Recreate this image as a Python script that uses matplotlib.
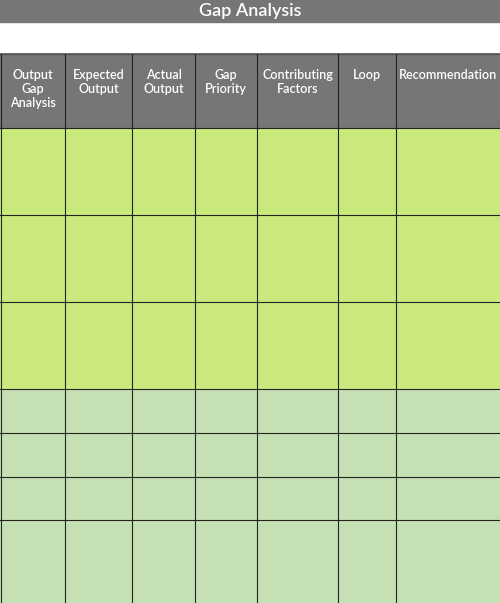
import matplotlib
matplotlib.use("Agg")
import matplotlib.pyplot as plt
from matplotlib.patches import Rectangle

title = "Gap Analysis"
headers = ["Output\nGap\nAnalysis", "Expected\nOutput", "Actual\nOutput", "Gap\nPriority",
           "Contributing\nFactors", "Loop", "Recommendation"]
col_edges = [0, 65, 132, 195, 257, 338, 396, 500]
row_edges = [128, 215, 302, 389, 433, 477, 520, 603]
row_colors = ["#c9e97c"] * 3 + ["#c5e0b4"] * 4

fig = plt.figure(figsize=(5.0, 6.03), dpi=100)
ax = fig.add_axes([0, 0, 1, 1])
ax.set_xlim(0, 500); ax.set_ylim(603, 0); ax.axis("off")

gray = "#767676"
ax.add_patch(Rectangle((0, 0), 500, 22, color=gray))
ax.text(250, 11, title, color="white", ha="center", va="center", fontsize=13,
        family="Lato", fontweight="semibold")
ax.add_patch(Rectangle((0, 53), 500, 75, facecolor=gray, edgecolor="none"))
ax.plot([0, 500], [54, 54], color="#555555", lw=1)

for i, h in enumerate(headers):
    x0, x1 = col_edges[i], col_edges[i + 1]
    ax.text((x0 + x1) / 2, 69, h, color="white", ha="center", va="top", fontsize=9,
            family="Lato", fontweight="semibold", linespacing=1.2)

for r in range(len(row_edges) - 1):
    y0, y1 = row_edges[r], row_edges[r + 1]
    ax.add_patch(Rectangle((0, y0), 500, y1 - y0, facecolor=row_colors[r], edgecolor="none"))
    ax.plot([0, 500], [y0, y0], color="#222222", lw=0.8)

for x in col_edges[1:-1]:
    ax.plot([x, x], [54, 603], color="#222222", lw=0.8)
ax.plot([0.5, 0.5], [54, 603], color="#222222", lw=0.8)

fig.savefig("out.png", dpi=100)
